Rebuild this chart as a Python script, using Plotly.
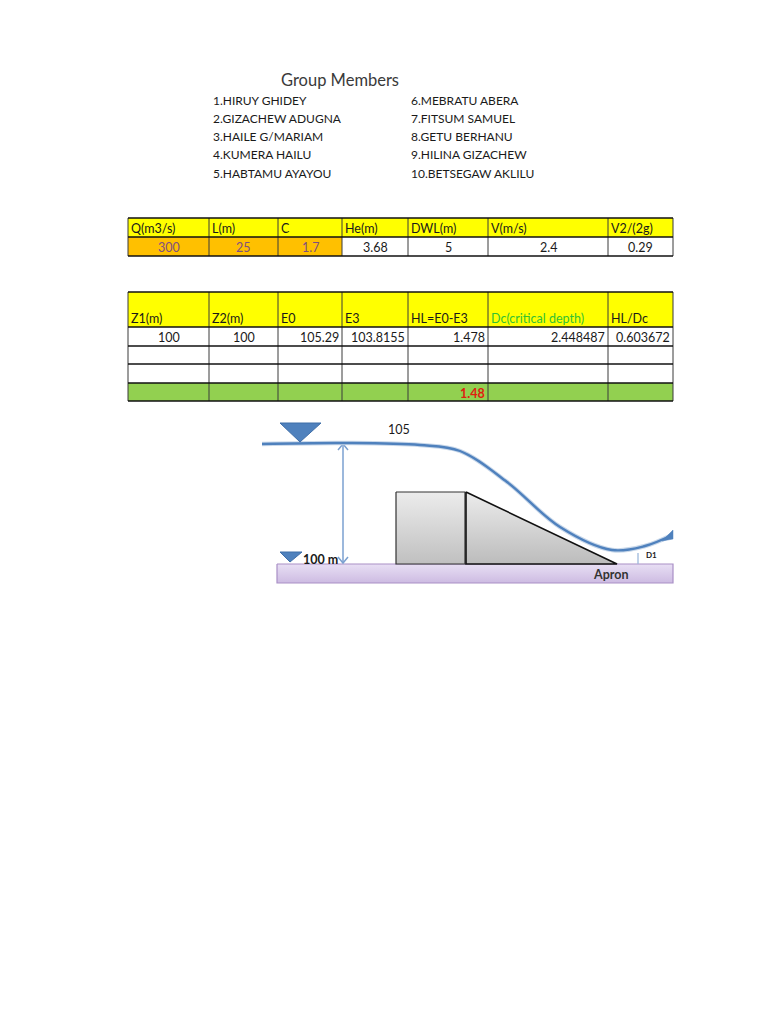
import plotly.graph_objects as go

# group member names
names_left = ["1.HIRUY GHIDEY", "2.GIZACHEW ADUGNA", "3.HAILE G/MARIAM", "4.KUMERA HAILU", "5.HABTAMU AYAYOU"]
names_right = ["6.MEBRATU ABERA", "7.FITSUM SAMUEL", "8.GETU BERHANU", "9.HILINA GIZACHEW", "10.BETSEGAW AKLILU"]
name_rows_y = [100, 118, 136, 154, 173]

# table columns (page pixels)
col_edges = [128, 209, 278, 342, 408, 488, 608, 673]

# first table
head1 = ["Q(m3/s)", "L(m)", "C", "He(m)", "DWL(m)", "V(m/s)", "V2/(2g)"]
vals1 = ["300", "25", "1.7", "3.68", "5", "2.4", "0.29"]
rows1_y = [218, 237, 256]

# second table
head2 = ["Z1(m)", "Z2(m)", "E0", "E3", "HL=E0-E3", "Dc(critical depth)", "HL/Dc"]
vals2 = ["100", "100", "105.29", "103.8155", "1.478", "2.448487", "0.603672"]
align2 = ["center", "center", "right", "right", "right", "right", "right"]
total2 = ["", "", "", "", "1.48", "", ""]
rows2_y = [292, 327, 346, 364, 383, 401]

# sketch outlines
water_x = [262, 343, 420, 460, 507, 560, 612, 645, 670]
water_y = [444, 443, 445, 451, 482, 527, 550, 546, 536]
tip_x = [662, 673, 673, 662]
tip_y = [541, 530, 539, 541]
apron_x = [277, 673, 673, 277, 277]
apron_y = [564, 564, 583, 583, 564]
block_x = [396, 465, 465, 396, 396]
block_y = [492, 492, 564, 564, 492]
slope_x = [466, 617, 466, 466]
slope_y = [492, 564, 564, 492]
big_tri_x = [280, 321, 300, 280]
big_tri_y = [423, 423, 442, 423]
small_tri_x = [280, 302, 290, 280]
small_tri_y = [552, 552, 562, 552]
depth_x = [343, 343]
depth_y = [444, 563]

FONT = "Lato"
BLUE = "#4f81bd"
ARROW = "#7ba0d0"
INK = "#1a1a1a"

fig = go.Figure()
shapes = []
notes = []


def text(x, y, s, size=12.5, color=INK, anchor="left", bold=False):
    notes.append(dict(x=x, y=y, text="<b>" + s + "</b>" if bold else s, showarrow=False, xanchor=anchor,
                      yanchor="middle", xref="x", yref="y", borderpad=0,
                      font=dict(family=FONT, size=size, color=color)))


def cell(i, y0, y1, fill):
    shapes.append(dict(type="rect", x0=col_edges[i], x1=col_edges[i + 1], y0=y0, y1=y1, layer="below",
                       fillcolor=fill, line=dict(width=0)))


def grid(rows):
    # row lines are heavier than column lines in the sheet
    for x in col_edges:
        shapes.append(dict(type="line", x0=x, x1=x, y0=rows[0], y1=rows[-1], layer="below",
                           line=dict(color="#3a3a3a", width=1)))
    for y in rows:
        shapes.append(dict(type="line", x0=col_edges[0], x1=col_edges[-1], y0=y, y1=y, layer="below",
                           line=dict(color="#111111", width=1.7)))


def cell_text(i, y, s, align, color=INK, bold=False):
    if align == "center":
        text((col_edges[i] + col_edges[i + 1]) / 2, y, s, color=color, anchor="center", bold=bold)
    elif align == "right":
        text(col_edges[i + 1] - 2, y, s, color=color, anchor="right", bold=bold)
    else:
        text(col_edges[i] + 2, y, s, color=color, bold=bold)


def poly(x, y, fill=None, grad=None, line="#000000", width=1.2):
    t = dict(x=x, y=y, mode="lines", line=dict(color=line, width=width), hoverinfo="skip", showlegend=False)
    if grad:
        t.update(fill="toself", fillgradient=dict(type="vertical", colorscale=grad))
    elif fill:
        t.update(fill="toself", fillcolor=fill)
    fig.add_trace(go.Scatter(**t))


# header text
text(340, 80, "Group Members", size=16.5, color="#3a3a3a", anchor="center")
for a, b, y in zip(names_left, names_right, name_rows_y):
    text(212, y, a, size=12)
    text(410, y, b, size=12)

# table 1
for i in range(7):
    cell(i, rows1_y[0], rows1_y[1], "#ffff00")
    cell(i, rows1_y[1], rows1_y[2], "#ffc000" if i < 3 else "#ffffff")
    cell_text(i, rows1_y[0] + 10, head1[i], "left")
    cell_text(i, rows1_y[1] + 10, vals1[i], "center", color="#7f4f7f" if i < 3 else INK)
grid(rows1_y)

# table 2
for i in range(7):
    cell(i, rows2_y[0], rows2_y[1], "#ffff00")
    cell(i, rows2_y[1], rows2_y[2], "#ffffff")
    cell(i, rows2_y[2], rows2_y[3], "#ffffff")
    cell(i, rows2_y[3], rows2_y[4], "#ffffff")
    cell(i, rows2_y[4], rows2_y[5], "#92d050")
    cell_text(i, rows2_y[1] - 9, head2[i], "left", color="#33c233" if i == 5 else INK)
    cell_text(i, rows2_y[1] + 10, vals2[i], align2[i])
    if total2[i]:
        cell_text(i, rows2_y[4] + 10, total2[i], "right", color="#e0200f", bold=True)
grid(rows2_y)

# sketch
poly(apron_x, apron_y, grad=[[0, "#cdbbe2"], [1, "#e8dff4"]], line="#a98fc6", width=1.2)
poly(block_x, block_y, grad=[[0, "#c0c0c0"], [1, "#ececec"]], line="#333333", width=1.2)
poly(slope_x, slope_y, grad=[[0, "#bcbcbc"], [1, "#ececec"]], line="#111111", width=1.6)
poly(depth_x, depth_y, line=ARROW, width=1.5)
poly([338, 343, 348], [450, 444, 450], line=ARROW, width=1.5)
poly([338, 343, 348], [557, 563, 557], line=ARROW, width=1.5)
poly([638, 638], [553, 564], line="#9db8dc", width=1.3)
poly(water_x, water_y, line="#c9d8ea", width=4.5)
fig.data[-1].line.shape = "spline"
poly(water_x, water_y, line=BLUE, width=2.4)
fig.data[-1].line.shape = "spline"
poly(tip_x, tip_y, fill=BLUE, line=BLUE, width=0.5)
poly(big_tri_x, big_tri_y, fill=BLUE, line="#3f6ea8", width=1)
poly(small_tri_x, small_tri_y, fill=BLUE, line="#3f6ea8", width=1)

text(399, 429, "105", size=12.5, anchor="center")
text(320, 559, "100 m", size=12.5, anchor="center", bold=True)
text(651, 555, "D1", size=8, anchor="center", bold=True)
text(610, 574, "Apron", size=12.5, color="#333333", anchor="center", bold=True)

fig.update_layout(width=768, height=1024, margin=dict(l=0, r=0, t=0, b=0), paper_bgcolor="white",
                  plot_bgcolor="white", showlegend=False, shapes=shapes, annotations=notes)
fig.update_xaxes(range=[0, 768], visible=False)
fig.update_yaxes(range=[1024, 0], visible=False)

fig.write_html("out.html", config=dict(displayModeBar=False), post_script="document.body.style.margin='0';")
